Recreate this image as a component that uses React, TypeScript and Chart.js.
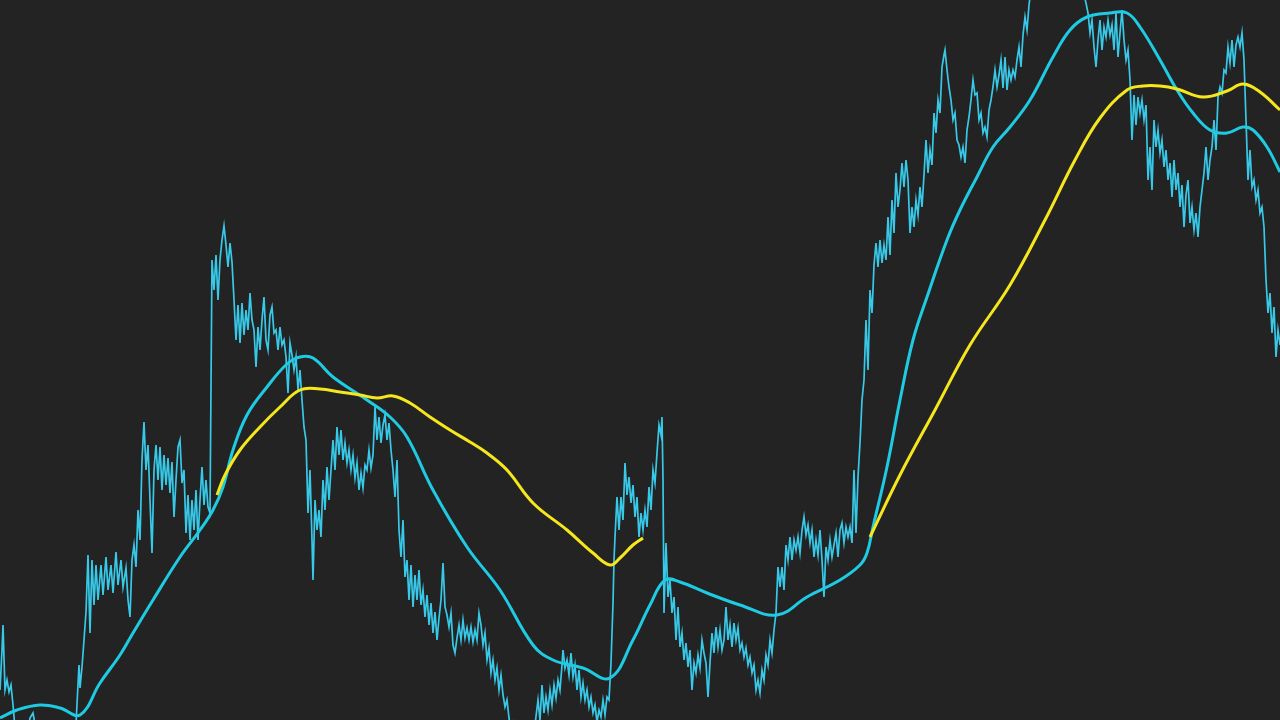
import React, { useEffect, useRef } from "react";
import { Chart, registerables } from "chart.js";

Chart.register(...registerables);

// Price (bar time index, price level)
const priceT = [0,2,3,5,7,9,11,13,15,18,21,24,27,30,33,36,40,44,48,52,56,60,64,68,72,76,79,80,82,84,86,88,90,92,94,96,98,101,103,106,108,111,113,116,118,121,123,126,128,130,132,134,136,138,140,142,144,146,148,150,152,154,156,158,160,162,164,166,168,170,172,174,176,178,180,182,184,186,188,190,192,194,196,198,200,202,204,206,208,210,212,214,216,218,220,222,224,226,228,230,232,234,236,238,240,242,244,246,248,250,252,254,256,258,260,262,264,266,268,270,272,274,276,278,280,282,284,286,288,290,292,294,296,298,300,302,304,306,308,310,312,313,315,317,319,321,323,325,327,329,331,333,335,337,339,341,343,345,347,349,351,353,355,357,359,361,363,365,367,369,371,373,375,377,379,381,383,385,387,389,391,393,395,397,399,401,403,405,407,409,411,413,415,417,419,421,423,425,427,429,431,433,435,437,439,441,443,445,447,449,451,453,455,457,459,461,463,465,467,469,471,473,475,477,479,481,483,485,487,489,491,493,495,497,499,501,503,505,507,509,511,514,518,522,526,530,534,538,540,542,544,546,548,550,552,554,556,558,560,562,563,565,567,569,571,573,575,577,579,581,583,585,587,589,591,593,595,597,599,601,603,605,607,609,611,613,614,615,617,619,621,623,625,627,629,631,633,635,637,639,641,643,645,647,649,651,653,655,657,659,661,662,663,664,666,668,670,672,674,676,678,680,682,684,686,688,690,692,694,696,698,700,702,704,706,708,710,712,714,716,718,720,722,724,726,728,730,732,734,736,738,740,742,744,746,748,750,752,754,756,758,760,762,764,766,768,770,772,774,776,778,780,782,784,786,788,790,792,794,796,798,800,802,804,806,808,810,812,814,816,818,820,822,824,826,828,830,832,834,836,838,840,842,844,846,848,850,852,854,856,858,860,862,864,866,868,870,872,874,876,878,880,882,884,886,888,890,892,894,896,898,900,902,904,906,908,910,912,914,916,918,920,922,924,926,928,930,932,934,936,938,940,942,944,945,947,949,951,953,955,957,959,961,963,965,967,969,971,973,975,977,979,981,983,985,987,989,991,993,995,997,999,1001,1003,1005,1007,1009,1011,1013,1015,1017,1019,1021,1023,1025,1027,1029,1031,1034,1040,1046,1052,1058,1064,1070,1076,1080,1084,1086,1088,1090,1092,1094,1096,1098,1100,1102,1104,1106,1108,1110,1112,1114,1116,1118,1120,1122,1124,1126,1128,1130,1132,1134,1136,1138,1140,1142,1144,1146,1148,1150,1152,1154,1156,1158,1160,1162,1164,1166,1168,1170,1172,1174,1176,1178,1180,1182,1184,1186,1188,1190,1192,1194,1196,1198,1200,1202,1204,1206,1208,1210,1212,1214,1216,1218,1220,1222,1224,1226,1228,1230,1232,1234,1236,1238,1240,1242,1244,1246,1248,1250,1252,1254,1256,1258,1260,1262,1264,1266,1268,1270,1272,1274,1276,1278,1280];
const priceV = [30,70,95,30,40,28,35,15,-8,-2,-14,-4,-16,2,7,-10,-18,-6,-20,-10,-22,-8,-18,-6,-14,-4,55,32,53,80,108,165,87,160,115,155,120,155,125,163,130,155,127,168,135,160,133,152,120,103,160,175,153,210,180,260,298,250,275,220,167,250,275,240,273,230,265,235,262,227,258,203,240,273,280,237,250,187,225,180,220,190,230,180,220,253,215,240,213,207,460,430,465,420,460,480,494,475,453,477,458,420,380,415,377,417,385,410,390,427,400,390,353,393,370,400,423,380,370,405,413,387,390,370,393,375,380,363,327,377,365,350,363,330,350,320,293,280,207,250,180,140,220,190,210,183,240,210,253,220,250,280,250,293,265,290,260,277,257,270,250,265,242,257,230,247,232,255,250,270,252,265,313,280,303,277,295,305,280,297,270,250,223,260,190,163,200,143,160,120,155,113,145,120,150,115,130,103,125,95,117,87,108,80,102,120,157,113,105,93,107,75,67,82,95,80,100,82,92,80,93,78,90,80,107,95,75,87,60,72,47,60,40,52,30,45,25,13,20,2,-10,-2,-15,-8,-18,-5,-13,20,0,35,7,23,10,30,15,35,22,40,30,55,70,52,60,45,67,43,55,30,50,23,37,20,30,13,23,7,15,-2,10,3,20,5,23,20,57,117,160,183,223,190,223,200,257,225,243,217,235,203,223,183,207,190,210,193,233,210,250,237,267,295,285,303,240,107,177,123,140,107,123,80,113,73,87,60,77,53,70,30,57,47,65,52,80,67,57,23,57,87,67,93,73,90,70,80,113,80,95,73,97,80,92,70,77,63,72,55,63,47,55,30,40,27,50,40,65,55,80,67,90,107,153,133,153,130,175,160,183,160,180,170,183,167,190,203,185,195,177,190,163,180,165,190,160,123,173,160,180,163,175,187,163,190,197,177,193,183,193,177,250,187,243,277,320,340,400,350,430,407,455,477,453,480,457,475,460,503,465,520,487,547,513,530,557,533,560,540,487,513,493,520,505,533,513,545,580,547,570,555,607,587,620,607,653,665,670,650,633,620,600,607,580,575,563,573,557,590,603,620,640,625,627,600,607,587,593,583,610,620,633,650,633,645,660,632,663,630,650,640,650,643,660,673,653,685,703,690,715,730,740,750,745,755,748,758,745,750,735,725,717,707,687,700,673,653,680,700,670,693,683,700,685,695,670,707,663,687,710,680,660,670,640,580,625,595,623,607,620,600,615,540,573,530,600,573,590,567,580,553,570,540,557,523,560,530,547,513,535,493,525,540,497,513,490,507,483,513,530,547,573,540,560,573,600,570,623,633,627,650,647,673,657,680,653,675,683,673,687,660,600,540,570,533,540,520,530,507,513,493,440,407,427,387,413,363,390,375];

// Fast moving average (cyan)
const fastT = [0,17,40,60,80,100,120,133,153,180,200,213,223,233,247,267,287,300,313,333,367,390,407,433,467,500,533,553,583,610,633,650,665,680,707,740,777,807,840,860,867,873,887,900,913,927,947,960,977,993,1010,1030,1053,1070,1087,1110,1127,1140,1160,1177,1193,1210,1227,1243,1253,1267,1280];
const fastV = [2,10,15,12,5,37,65,87,120,163,190,210,233,270,305,333,356,363,362,343,320,303,283,230,173,130,75,60,52,42,80,115,140,138,127,115,105,123,140,155,167,193,253,320,380,423,480,510,543,573,593,620,663,690,703,707,707,693,660,630,607,590,587,593,590,573,548];

// Slow moving average (yellow), null = gap
const slowT = [217,225,240,260,280,300,320,340,360,377,393,410,430,450,470,487,507,533,567,593,610,620,633,643,700,870,900,935,970,1010,1045,1075,1100,1127,1143,1160,1177,1203,1227,1243,1260,1280];
const slowV = [225,245,270,293,313,330,331,328,325,322,324,317,303,290,278,267,250,217,190,167,155,162,175,182,null,183,245,310,375,435,500,560,602,630,634,634,631,623,629,636,628,610];

const BG = "#232323";
const CYAN_PRICE = "#38c9e8";
const CYAN_MA = "#1fcbe3";
const YELLOW = "#f6e61c";

const bgPlugin = {
  id: "bg",
  beforeDraw(chart: any) {
    const { ctx, width, height } = chart;
    ctx.save();
    ctx.fillStyle = BG;
    ctx.fillRect(0, 0, width, height);
    ctx.restore();
  },
};

export default function App() {
  const ref = useRef<HTMLCanvasElement | null>(null);
  useEffect(() => {
    if (!ref.current) return;
    const toPts = (t: number[], v: (number | null)[]) => t.map((x, i) => ({ x, y: v[i] }));
    const chart = new Chart(ref.current, {
      type: "line",
      data: {
        datasets: [
          {
            label: "Slow MA",
            data: toPts(slowT, slowV) as any,
            borderColor: YELLOW,
            borderWidth: 3,
            tension: 0.4,
            spanGaps: false,
            pointRadius: 0,
            order: 0,
          },
          {
            label: "Fast MA",
            data: toPts(fastT, fastV) as any,
            borderColor: CYAN_MA,
            borderWidth: 3,
            tension: 0.4,
            pointRadius: 0,
            order: 1,
          },
          {
            label: "Price",
            data: toPts(priceT, priceV) as any,
            borderColor: CYAN_PRICE,
            borderWidth: 1.7,
            tension: 0,
            pointRadius: 0,
            order: 2,
          },
        ],
      },
      options: {
        animation: false,
        responsive: false,
        devicePixelRatio: 1,
        layout: { padding: 0 },
        plugins: { legend: { display: false }, tooltip: { enabled: false } },
        scales: {
          x: { type: "linear", min: 0, max: 1280, display: false },
          y: { type: "linear", min: 0, max: 720, display: false },
        },
      },
      plugins: [bgPlugin],
    });
    return () => chart.destroy();
  }, []);
  return (
    <div style={{ position: "fixed", left: 0, top: 0, width: 1280, height: 720, background: BG }}>
      <canvas ref={ref} width={1280} height={720} style={{ display: "block" }} />
    </div>
  );
}
